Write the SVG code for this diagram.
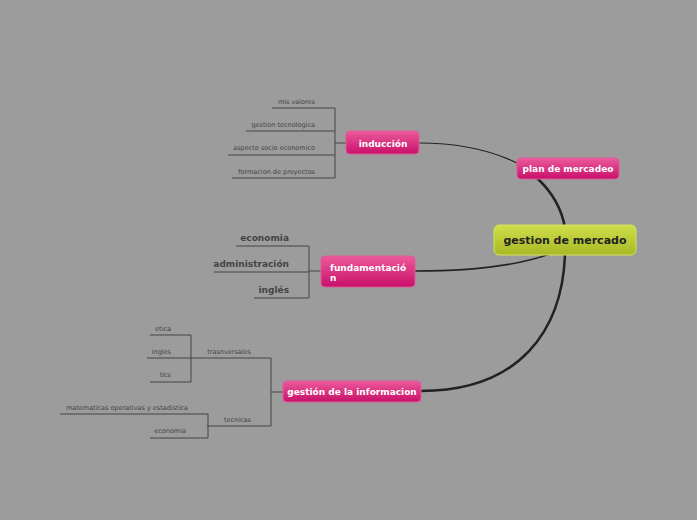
<svg xmlns="http://www.w3.org/2000/svg" width="697" height="520" viewBox="0 0 697 520">
<defs>
<linearGradient id="pk" x1="0" y1="0" x2="0" y2="1"><stop offset="0" stop-color="#ec5a9b"/><stop offset="1" stop-color="#c8106a"/></linearGradient>
<linearGradient id="gr" x1="0" y1="0" x2="0" y2="1"><stop offset="0" stop-color="#cfdf4c"/><stop offset="1" stop-color="#a8b824"/></linearGradient>
</defs>
<style>
.n{fill:url(#pk);stroke:#e05a98;stroke-width:1}
.nt{fill:#fff;font-family:"DejaVu Sans",sans-serif;font-weight:bold;font-size:9px}
.l{fill:none;stroke:#444;stroke-width:1}
.c{fill:none;stroke:#222}
.s{fill:#444;font-family:"DejaVu Sans",sans-serif;font-size:6.5px;text-anchor:end}
.b{fill:#444;font-family:"DejaVu Sans",sans-serif;font-size:9px;font-weight:bold;text-anchor:end}
</style>
<rect width="697" height="520" fill="#9c9c9c"/>
<g id="connectors">
<path class="c" stroke-width="1.2" d="M419,143 C470,143 505,155 530,170"/>
<path class="c" stroke-width="2.5" d="M537,178 C552,192 562,210 565,228"/>
<path class="c" stroke-width="1.5" d="M415,271 C480,271 525,264 555,252"/>
<path class="c" stroke-width="2.5" d="M421,391 C520,391 562,330 565,255"/>
<path class="l" d="M335,108V178M335,143H346M272,108H335M246,131H335M228,155H335M232,178H335"/>
<path class="l" d="M309,246V298M309,271H321M236,246H309M214,272H309M254,298H309"/>
<path class="l" d="M271,358V426M271,392H283M191,358H271M207,426H271"/>
<path class="l" d="M191,335V382M150,335H191M147,358H191M150,382H191"/>
<path class="l" d="M208,414V438M60,414H208M150,438H208"/>
</g>
<g id="root"><rect x="494" y="225" width="142" height="30" rx="5" fill="url(#gr)" stroke="#d4e25a"/><text x="565" y="244" text-anchor="middle" font-family="DejaVu Sans,sans-serif" font-weight="bold" font-size="11" fill="#222">gestion de mercado</text></g>
<g id="plan"><rect class="n" x="517" y="158" width="102" height="21" rx="4"/><text class="nt" x="568" y="172" text-anchor="middle">plan de mercadeo</text></g>
<g id="induccion"><rect class="n" x="346" y="131" width="73" height="23" rx="4"/><text class="nt" x="383" y="147" text-anchor="middle" font-size="11">inducción</text></g>
<g id="fund"><rect class="n" x="321" y="256" width="94" height="31" rx="4"/><text class="nt" x="330" y="271">fundamentació</text><text class="nt" x="330" y="281">n</text></g>
<g id="gestion"><rect class="n" x="283" y="381" width="138" height="21" rx="4"/><text class="nt" x="352" y="395" text-anchor="middle">gestión de la informacion</text></g>
<g id="ind-children"><text class="s" x="315" y="104">mis valores</text><text class="s" x="315" y="127">gestion tecnologica</text><text class="s" x="315" y="150">aspecto socio economico</text><text class="s" x="315" y="174">formacion de proyectos</text></g>
<g id="fund-children"><text class="b" x="289" y="241">economia</text><text class="b" x="289" y="267">administración</text><text class="b" x="289" y="293">inglés</text></g>
<g id="gest-children"><text class="s" x="251" y="354">trasnversales</text><text class="s" x="251" y="422">tecnicas</text>
<text class="s" x="171" y="331">etica</text><text class="s" x="171" y="354">ingles</text><text class="s" x="171" y="377">tics</text>
<text class="s" x="188" y="410">matematicas operativas y estadistica</text><text class="s" x="186" y="433">economia</text></g>
</svg>
